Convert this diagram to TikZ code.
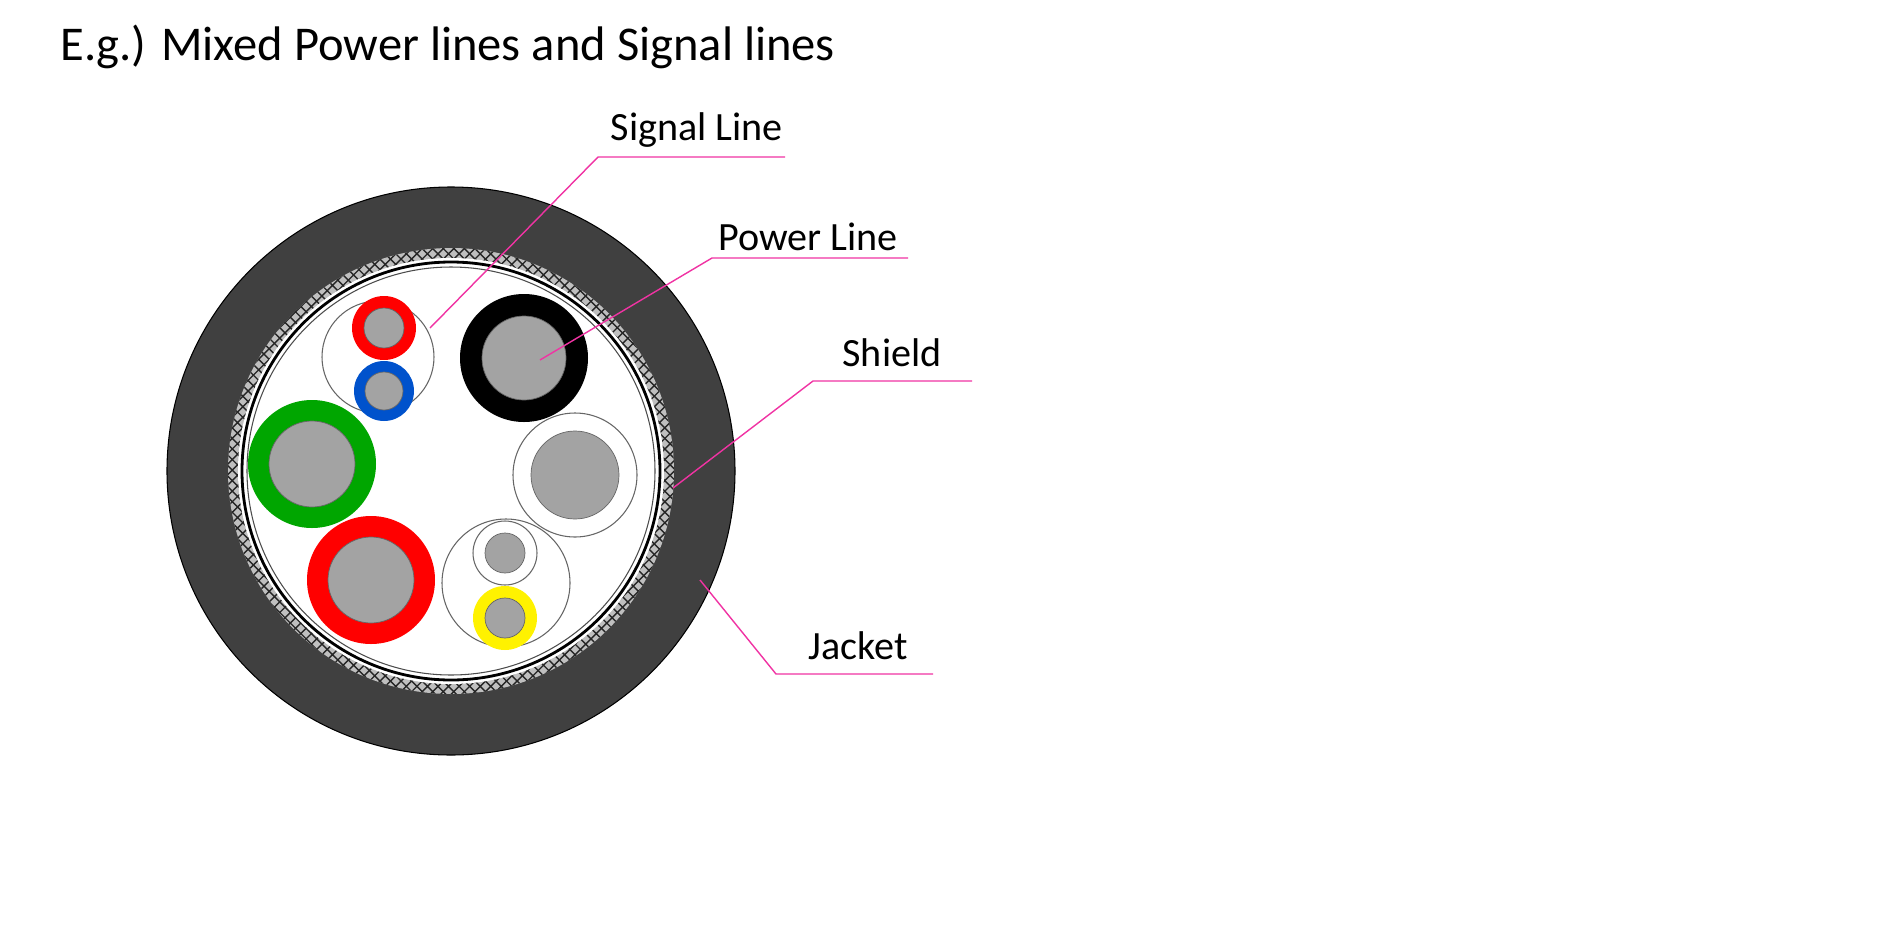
\documentclass[tikz,border=0pt]{standalone}
\usepackage{fontspec}
\setmainfont{Carlito}
\usetikzlibrary{patterns}
\tikzset{
  leader/.style = {draw=magenta!80, line width=0.4pt},
  lbl/.style = {font=\fontsize{11.4}{13}\selectfont, anchor=base},
  core/.style = {fill=black!36, draw=black!60, line width=0.2pt},
  thin/.style = {draw=black!60, fill=white, line width=0.3pt}
}
\begin{document}
\begin{tikzpicture}[x=0.01cm, y=-0.01cm]
  \useasboundingbox (0,0) rectangle (1890,945);
  \node[anchor=base west, font=\fontsize{13.8}{16}\selectfont] (title) at (48,60) {E.g.) Mixed Power lines and Signal lines};
  % cable
  \fill[black!75] (451,471) circle (284);
  \draw[black, line width=0.3pt] (451,471) circle (284);
  \fill[black!25] (451,471) circle (223);
  \fill[pattern=crosshatch, pattern color=black!85] (451,471) circle (223);
  \fill[white] (451,471) circle (213);
  \draw[line width=0.8pt] (451,471) circle (209);
  \draw[black!70, line width=0.3pt] (451,471) circle (204);
  % signal pair, top
  \draw[thin] (378,357) circle (56);
  \fill[red] (384,328) circle (32); \draw[core] (384,328) circle (20);
  \fill[blue!60!cyan!80!black] (384,391) circle (30); \draw[core] (384,391) circle (19);
  % power lines
  \fill[black] (524,358) circle (64); \draw[core] (524,358) circle (42);
  \fill[green!65!black] (312,464) circle (64); \draw[core] (312,464) circle (43);
  \draw[thin] (575,475) circle (62); \draw[core] (575,475) circle (44);
  \fill[red] (371,580) circle (64); \draw[core] (371,580) circle (43);
  % signal pair, bottom
  \draw[thin] (506,583) circle (64);
  \draw[thin] (505,553) circle (32); \draw[core] (505,553) circle (20);
  \fill[yellow] (505,618) circle (32); \draw[core] (505,618) circle (20);
  % leaders
  \coordinate (sig) at (430,328);
  \coordinate (pow) at (540,360);
  \coordinate (shd) at (673,488);
  \coordinate (jkt) at (700,580);
  \draw[leader] (sig) -- (598,157) -- (785,157);
  \draw[leader] (pow) -- (712,258) -- (908,258);
  \draw[leader] (shd) -- (813,381) -- (972,381);
  \draw[leader] (jkt) -- (776,674) -- (933,674);
  \node[lbl] (sigl) at (697,140) {Signal Line};
  \node[lbl] (powl) at (808,250) {Power Line};
  \node[lbl] (shdl) at (892,366) {Shield};
  \node[lbl] (jktl) at (858,659) {Jacket};
\end{tikzpicture}
\end{document}
